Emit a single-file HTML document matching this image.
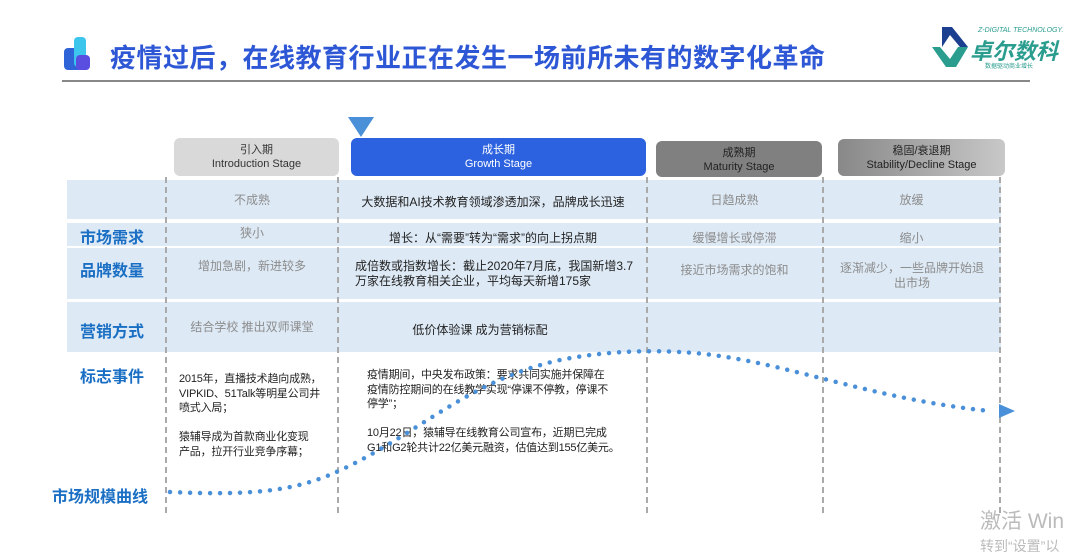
<!DOCTYPE html>
<html><head><meta charset="utf-8"><style>
body{margin:0;width:1080px;height:552px;background:#fff;position:relative;overflow:hidden;font-family:"Liberation Sans","Noto Sans CJK SC",sans-serif}
.a{position:absolute}
.hd{position:absolute;border-radius:6px;text-align:center;font-size:11px;line-height:14px;box-sizing:border-box;padding-top:5px}
.row{position:absolute;left:67px;width:934px;background:#dde9f5}
.lab{position:absolute;font-size:16px;font-weight:bold;color:#1a6fc4}
.g{position:absolute;color:#8c8c8c;font-size:12px;text-align:center}
.k{position:absolute;color:#222;font-size:12px}
.ev{position:absolute;color:#222;font-size:11px;line-height:14.5px;letter-spacing:-0.2px}
</style></head><body>
<div class="a" style="left:64px;top:48px;width:18px;height:22px;background:#2f64d8;border-radius:4px"></div>
<div class="a" style="left:74px;top:37px;width:12px;height:30px;background:#3cc6ee;border-radius:4px"></div>
<div class="a" style="left:76px;top:55px;width:14px;height:15px;background:#5a4ee0;border-radius:4px"></div>
<div class="a" style="left:110px;top:38px;font-size:26px;font-weight:bold;color:#2e57d6;letter-spacing:0.5px">疫情过后，在线教育行业正在发生一场前所未有的数字化革命</div>
<div class="a" style="left:62px;top:80px;width:968px;height:2px;background:#888"></div>
<svg class="a" style="left:930px;top:25px" width="40" height="44"><polygon points="12,2 22,2 38,22 30,22 20,10 12,22" fill="#1d3f8f"/><polygon points="2,22 10,22 20,34 28,22 38,22 26,42 16,42" fill="#2a9d8f"/></svg>
<div class="a" style="left:978px;top:27px;font-size:7px;color:#2a9d8f;font-style:italic">Z-DIGITAL TECHNOLOGY.</div>
<div class="a" style="left:970px;top:34px;font-size:22px;font-weight:bold;color:#2a9d8f;font-style:italic">卓尔数科</div>
<div class="a" style="left:985px;top:61px;font-size:6px;color:#2a9d8f">数据驱动商业增长</div>
<svg class="a" style="left:348px;top:117px" width="26" height="20"><polygon points="0,0 26,0 13,20" fill="#4a90d9"/></svg>

<div class="hd" style="left:174px;top:138px;width:165px;height:38px;background:#d9d9d9;color:#333">引入期<br>Introduction Stage</div>
<div class="hd" style="left:351px;top:138px;width:295px;height:38px;background:#2c62df;color:#fff">成长期<br>Growth Stage</div>
<div class="hd" style="left:656px;top:141px;width:166px;height:36px;background:#808080;color:#222">成熟期<br>Maturity Stage</div>
<div class="hd" style="left:838px;top:139px;width:167px;height:37px;background:linear-gradient(90deg,#888,#c8c8c8);color:#222">稳固/衰退期<br>Stability/Decline Stage</div>

<div class="row" style="top:180px;height:39px"></div>
<div class="row" style="top:223px;height:23px"></div>
<div class="row" style="top:248px;height:51px"></div>
<div class="row" style="top:302px;height:50px"></div>

<div class="lab" style="left:80px;top:224px">市场需求</div>
<div class="lab" style="left:80px;top:257px">品牌数量</div>
<div class="lab" style="left:80px;top:318px">营销方式</div>
<div class="lab" style="left:80px;top:363px">标志事件</div>
<div class="lab" style="left:52px;top:483px">市场规模曲线</div>

<div class="g" style="left:166px;top:191px;width:172px">不成熟</div>
<div class="g" style="left:166px;top:224px;width:172px">狭小</div>
<div class="g" style="left:166px;top:257px;width:172px">增加急剧，新进较多</div>
<div class="g" style="left:166px;top:318px;width:172px">结合学校 推出双师课堂</div>
<div class="k" style="left:340px;top:193px;width:306px;text-align:center">大数据和AI技术教育领域渗透加深，品牌成长迅速</div>
<div class="k" style="left:340px;top:229px;width:306px;text-align:center">增长：从“需要”转为“需求”的向上拐点期</div>
<div class="k" style="left:355px;top:259px;width:290px;line-height:15px">成倍数或指数增长：截止2020年7月底，我国新增3.7万家在线教育相关企业，平均每天新增175家</div>
<div class="k" style="left:340px;top:321px;width:280px;text-align:center">低价体验课 成为营销标配</div>
<div class="g" style="left:647px;top:191px;width:175px">日趋成熟</div>
<div class="g" style="left:647px;top:229px;width:175px">缓慢增长或停滞</div>
<div class="g" style="left:647px;top:261px;width:175px">接近市场需求的饱和</div>
<div class="g" style="left:823px;top:191px;width:177px">放缓</div>
<div class="g" style="left:823px;top:229px;width:177px">缩小</div>
<div class="g" style="left:836px;top:261px;width:152px;line-height:15px">逐渐减少，一些品牌开始退出市场</div>

<div class="ev" style="left:179px;top:372px;width:160px">2015年，直播技术趋向成熟，<br>VIPKID、51Talk等明星公司井<br>喷式入局；<br><br>猿辅导成为首款商业化变现<br>产品，拉开行业竞争序幕；</div>
<div class="ev" style="left:367px;top:368px;width:280px">疫情期间，中央发布政策：要求共同实施并保障在<br>疫情防控期间的在线教学实现“停课不停教，停课不<br>停学”；<br><br>10月22日，猿辅导在线教育公司宣布，近期已完成<br>G1和G2轮共计22亿美元融资，估值达到155亿美元。</div>

<svg class="a" style="left:0;top:0" width="1080" height="552">
<g stroke="#aaa" stroke-width="2" stroke-dasharray="6,4">
<line x1="166" y1="177" x2="166" y2="515"/><line x1="338" y1="177" x2="338" y2="515"/>
<line x1="647" y1="177" x2="647" y2="515"/><line x1="823" y1="177" x2="823" y2="515"/>
<line x1="1000" y1="177" x2="1000" y2="515"/></g>
<path d="M170,492 C260,496 300,490 345,468 C420,432 470,380 560,360 C620,348 680,350 720,356 C800,368 880,400 990,411" fill="none" stroke="#4a90d9" stroke-width="4.5" stroke-linecap="round" stroke-dasharray="0,10"/>
<polygon points="999,404 1015,411 999,418" fill="#4a90d9"/>
</svg>
<div class="a" style="left:980px;top:505px;font-size:21px;color:#bbb">激活 Win</div>
<div class="a" style="left:980px;top:536px;font-size:14px;color:#bbb">转到“设置”以</div>
</body></html>
